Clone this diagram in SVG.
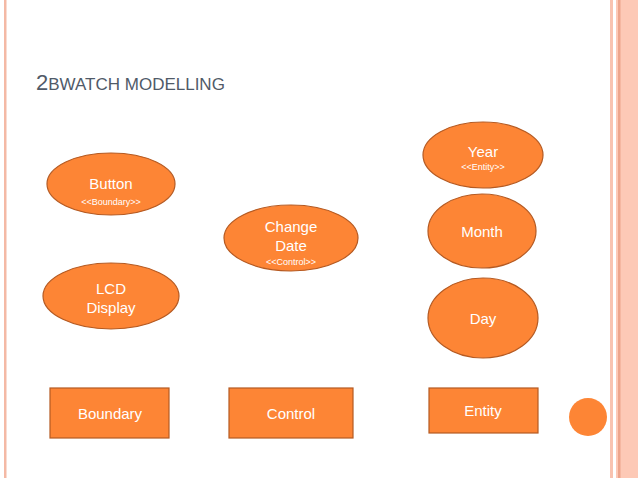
<svg xmlns="http://www.w3.org/2000/svg" width="638" height="478" viewBox="0 0 638 478">
<style>
.n{fill:#fd8535;stroke:#b55a22;stroke-width:1.2}
.t{font-family:"Liberation Sans",Arial,sans-serif;fill:#fff;text-anchor:middle}
.l{font-size:15px}.s{font-size:9px}
</style>
<rect width="638" height="478" fill="#fff"/>
<rect x="4" y="0" width="2.5" height="478" fill="#f4b9a5"/>
<rect x="610" y="0" width="3" height="478" fill="#f9c3b0"/>
<rect x="616" y="0" width="22" height="478" fill="#fdc9b6"/>
<rect x="618" y="0" width="2.5" height="478" fill="#eda58c"/>
<text x="36" y="90" font-family="'Liberation Sans',Arial,sans-serif" fill="#505a68" font-size="22">2<tspan font-size="17">BWATCH MODELLING</tspan></text>
<g id="button"><ellipse class="n" cx="111" cy="184" rx="64" ry="31"/><text class="t l" x="111" y="189">Button</text><text class="t s" x="111" y="205">&lt;&lt;Boundary&gt;&gt;</text></g>
<g id="lcd"><ellipse class="n" cx="111" cy="296" rx="68" ry="33"/><text class="t l" x="111" y="294">LCD</text><text class="t l" x="111" y="313">Display</text></g>
<g id="change"><ellipse class="n" cx="291" cy="238" rx="67" ry="33"/><text class="t l" x="291" y="232">Change</text><text class="t l" x="291" y="251">Date</text><text class="t s" x="291" y="265">&lt;&lt;Control&gt;&gt;</text></g>
<g id="year"><ellipse class="n" cx="483" cy="155" rx="60" ry="33"/><text class="t l" x="483" y="157">Year</text><text class="t s" x="483" y="170">&lt;&lt;Entity&gt;&gt;</text></g>
<g id="month"><ellipse class="n" cx="482" cy="231" rx="54" ry="37"/><text class="t l" x="482" y="237">Month</text></g>
<g id="day"><ellipse class="n" cx="483" cy="318" rx="55" ry="40"/><text class="t l" x="483" y="324">Day</text></g>
<g id="boundary"><rect class="n" x="50" y="388" width="119" height="50"/><text class="t l" x="110" y="419">Boundary</text></g>
<g id="control"><rect class="n" x="229" y="388" width="124" height="50"/><text class="t l" x="291" y="419">Control</text></g>
<g id="entity"><rect class="n" x="429" y="388" width="109" height="45"/><text class="t l" x="483" y="416">Entity</text></g>
<circle cx="588" cy="417" r="19" fill="#fd8535"/>
<g id="connectors"/>
</svg>
